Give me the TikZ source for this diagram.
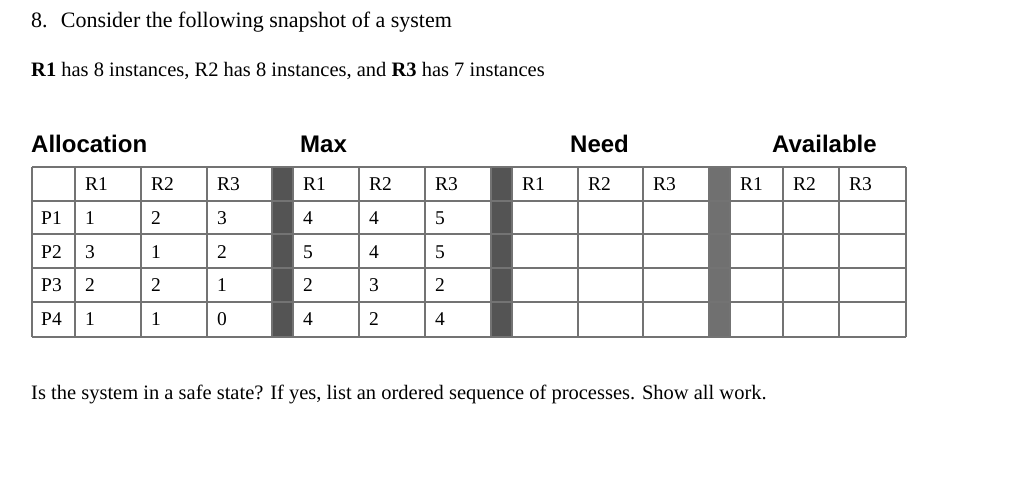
\documentclass[tikz,border=0pt]{standalone}
\usepackage{fontspec}
\setmainfont{Liberation Serif}
\newfontfamily\hdr{Liberation Sans}
\begin{document}
\begin{tikzpicture}[x=1pt,y=-1pt,
  txt/.style={anchor=base west,inner sep=0pt,font=\fontsize{20.5}{24}\selectfont},
  cell/.style={anchor=base west,inner sep=0pt,font=\fontsize{19.5}{23}\selectfont},
  hd/.style={anchor=base west,inner sep=0pt,font=\hdr\bfseries\fontsize{24}{28}\selectfont},
  grid/.style={draw=black!55,line width=1.2pt}]
\useasboundingbox (0,0) rectangle (1024,491);
\fill[white] (0,0) rectangle (1024,491);
\node[txt,font=\fontsize{22}{26}\selectfont] (t1) at (31,27) {8.\hspace{0.6em}Consider the following snapshot of a system};
\node[txt] (t2) at (31,76) {\textbf{R1} has 8 instances, R2 has 8 instances, and \textbf{R3} has 7 instances};
\node[hd] (h1) at (31,152) {Allocation};
\node[hd] (h2) at (300,152) {Max};
\node[hd] (h3) at (570,152) {Need};
\node[hd] (h4) at (772,152) {Available};
\node[txt] (t3) at (31,399) {Is the system in a safe state? If yes, list an ordered sequence of processes. Show all work.};
% gray columns
\fill[black!67] (272,167) rectangle (293,337);
\fill[black!67] (491,167) rectangle (512,337);
\fill[black!56] (709,167) rectangle (730,337);
% grid
\foreach \y in {167,201,234,268,302,337} \draw[grid] (32,\y) -- (906,\y);
\foreach \x in {32,75,141,207,272,293,359,425,491,512,578,643,709,730,783,839,906} \draw[grid] (\x,167) -- (\x,337);
% column headers
\foreach \x/\t in {85/R1,151/R2,217/R3,303/R1,369/R2,435/R3,522/R1,588/R2,653/R3,740/R1,793/R2,849/R3}
  \node[cell] at (\x,190) {\t};
% rows
\foreach \y/\p/\a/\b/\c/\d/\e/\f in {224/P1/1/2/3/4/4/5, 258/P2/3/1/2/5/4/5, 291/P3/2/2/1/2/3/2, 325/P4/1/1/0/4/2/4}{
  \node[cell] at (41,\y) {\p};
  \node[cell] at (85,\y) {\a};
  \node[cell] at (151,\y) {\b};
  \node[cell] at (217,\y) {\c};
  \node[cell] at (303,\y) {\d};
  \node[cell] at (369,\y) {\e};
  \node[cell] at (435,\y) {\f};
}
\end{tikzpicture}
\end{document}
